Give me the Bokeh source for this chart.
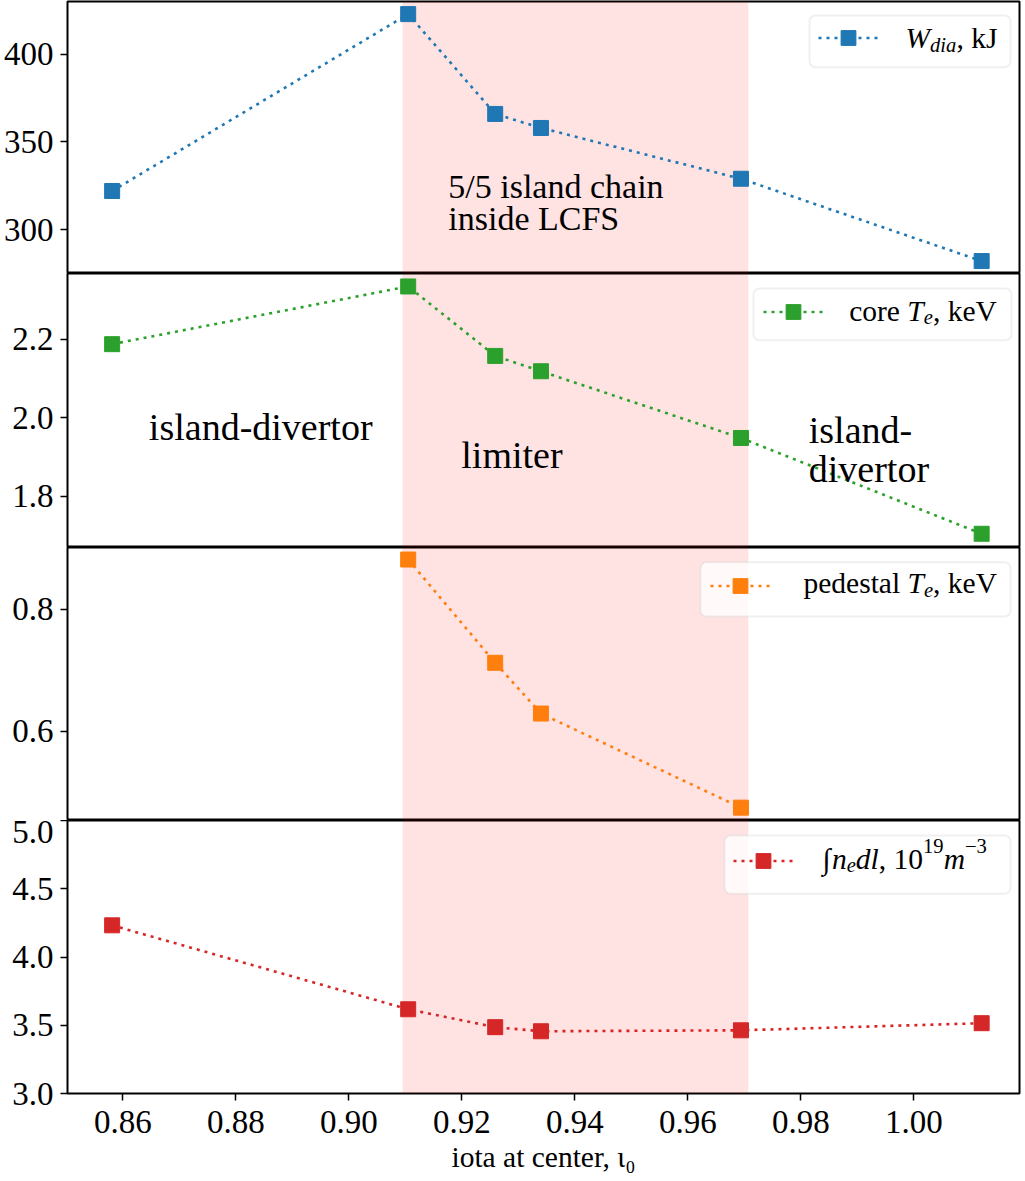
from bokeh.plotting import figure
from bokeh.layouts import column
from bokeh.models import (Range1d, FixedTicker, PrintfTickFormatter, BoxAnnotation,
                          Label, Legend, LegendItem)
from bokeh.embed import file_html
from bokeh.resources import INLINE

# ---- data -------------------------------------------------------------
iota = [0.8581, 0.9105, 0.9259, 0.9340, 0.9694, 1.0120]
w_dia = [322, 423, 366, 358, 329, 282]              # kJ
te_core = [2.188, 2.335, 2.158, 2.119, 1.949, 1.705]  # keV
iota_ped = [0.9105, 0.9259, 0.9340, 0.9694]
te_ped = [0.881, 0.712, 0.629, 0.475]               # keV
ne_dl = [4.232, 3.617, 3.486, 3.456, 3.463, 3.515]  # 1e19 m^-3

limiter_start, limiter_end = 0.9095, 0.9707

x_ticks = [0.86, 0.88, 0.90, 0.92, 0.94, 0.96, 0.98, 1.00]
w_ticks = [300, 350, 400]
core_ticks = [1.8, 2.0, 2.2]
ped_ticks = [0.6, 0.8]
ne_ticks = [3.0, 3.5, 4.0, 4.5, 5.0]

# ---- style ------------------------------------------------------------
FONT = "Liberation Serif"
TICK_FS = 33
LEG_FS = 29.5
BLUE, GREEN, ORANGE, RED = "#1f77b4", "#2ca02c", "#ff7f0e", "#d62728"

W, LEFT, RIGHT = 1025, 65, 6
FRAME_W = W - LEFT - RIGHT

x_range = Range1d(0.8502, 1.0187)

# Times-metric advance widths (em) for composing mixed-style legend labels
REG = {' ': .25, ',': .25, 'k': .5, 'J': .389, 'e': .444, 'V': .722, 'c': .444,
       'o': .5, 'r': .333, 'p': .5, 'd': .5, 's': .389, 't': .278, 'a': .444,
       'l': .278, '0': .5, '1': .5, '9': .5, '3': .5, '\u2212': .564, '\u222b': .32}
ITA = {'W': .833, 'T': .556, 'e': .444, 'd': .5, 'i': .278, 'a': .5, 'n': .5,
       'l': .278, 'm': .722}


def text_width(txt, italic):
    table = ITA if italic else REG
    return sum(table.get(ch, .5) for ch in txt)


def make_panel(y_range, ticks, fmt, height, top=0, bottom=0, x_axis=False):
    p = figure(width=W, height=height, x_range=x_range, y_range=y_range,
               output_backend="svg", toolbar_location=None,
               x_axis_location="below" if x_axis else None,
               min_border_left=LEFT, min_border_right=RIGHT,
               min_border_top=top, min_border_bottom=bottom)
    p.grid.visible = False
    p.outline_line_color = "black"
    p.outline_line_width = 2
    p.background_fill_color = "white"
    p.border_fill_color = "white"
    ax = p.yaxis[0]
    ax.ticker = FixedTicker(ticks=ticks)
    ax.formatter = PrintfTickFormatter(format=fmt)
    ax.major_label_text_font = FONT
    ax.major_label_text_font_size = f"{TICK_FS}px"
    ax.major_label_text_color = "black"
    ax.major_tick_out = 7
    ax.major_tick_in = 0
    ax.minor_tick_out = 0
    ax.minor_tick_in = 0
    ax.major_tick_line_width = 1.5
    ax.major_tick_line_color = "black"
    ax.axis_line_color = None
    ax.major_label_standoff = 7
    p.add_layout(BoxAnnotation(left=limiter_start, right=limiter_end,
                               fill_color="#ff0000", fill_alpha=0.115,
                               line_alpha=0, level="underlay"))
    return p


def add_series(p, x, y, color, pieces, frame_h, box, icon, text):
    """box = (left, right, top_off, bottom_off) in frame pixels;
    icon = (left, centre_off); text = (left, baseline_off)."""
    line = p.line(x, y, line_color=color, line_width=2.6, line_dash="3 5")
    pts = p.scatter(x, y, marker="square", size=15, fill_color=color,
                    line_color=color)

    # legend frame
    bl, br, bt, bb = box
    frame = BoxAnnotation(left=bl, right=br, top=frame_h - bt, bottom=frame_h - bb,
                          left_units="screen", right_units="screen",
                          top_units="screen", bottom_units="screen",
                          fill_color="white", fill_alpha=0.8,
                          line_color="#cccccc", line_width=2, level="underlay")
    if "border_radius" in BoxAnnotation.properties():
        frame.border_radius = 6
    p.add_layout(frame)

    # legend icon (transparent legend, only line + marker)
    il, ic = icon
    glyph_w, glyph_h = 60, 37
    margin = int(round(ic - glyph_h / 2))
    label_w = int(round(FRAME_W - margin - il - glyph_w))
    leg = Legend(items=[LegendItem(label=" ", renderers=[line, pts])],
                 location="top_right", margin=margin, padding=0, spacing=0,
                 glyph_width=glyph_w, glyph_height=glyph_h, label_standoff=0,
                 label_width=label_w, label_height=10, label_text_font_size="8px",
                 border_line_alpha=0, background_fill_alpha=0)
    p.add_layout(leg)

    # label text, with italic symbols and sub/superscripts
    xx, boff = text
    base = frame_h - boff
    for txt, italic, scale, dy in pieces:
        fs = LEG_FS * scale
        p.add_layout(Label(x=xx, y=base + dy * LEG_FS, x_units="screen",
                           y_units="screen", text=txt, text_font=FONT,
                           text_font_size=f"{fs:.1f}px",
                           text_font_style="italic" if italic else "normal",
                           text_baseline="alphabetic", text_align="left",
                           text_color="black"))
        xx += text_width(txt, italic) * fs


def add_note(p, x, y, text, size):
    p.add_layout(Label(x=x, y=y, text=text, text_font=FONT,
                       text_font_size=f"{size}px", text_baseline="middle",
                       text_align="left", text_color="black"))


SUB, SUP = -0.22, 0.42

# stored energy
p1 = make_panel(Range1d(274.9, 430.2), w_ticks, "%d", 273, top=1)
add_series(p1, iota, w_dia, BLUE,
           [("W", True, 1, 0), ("dia", True, .7, SUB), (", kJ", False, 1, 0)],
           272, box=(742, 943, 14, 65.7), icon=(753, 37), text=(838, 36.7))
add_note(p1, 0.9176, 324.7, "5/5 island chain", 34)
add_note(p1, 0.9176, 306.5, "inside LCFS", 34)

# core electron temperature
p2 = make_panel(Range1d(1.670, 2.368), core_ticks, "%.1f", 274)
add_series(p2, iota, te_core, GREEN,
           [("core ", False, 1, 0), ("T", True, 1, 0), ("e", True, .7, SUB),
            (", keV", False, 1, 0)],
           274, box=(686, 944, 15, 66.7), icon=(697.7, 39), text=(781.7, 37))
add_note(p2, 0.8646, 1.977, "island-divertor", 38)
add_note(p2, 0.9199, 1.906, "limiter", 38)
add_note(p2, 0.9814, 1.970, "island-", 38)
add_note(p2, 0.9814, 1.870, "divertor", 38)

# pedestal electron temperature
p3 = make_panel(Range1d(0.454, 0.9007), ped_ticks, "%.1f", 273)
add_series(p3, iota_ped, te_ped, ORANGE,
           [("pedestal ", False, 1, 0), ("T", True, 1, 0), ("e", True, .7, SUB),
            (", keV", False, 1, 0)],
           273, box=(633, 943, 14.7, 69), icon=(645, 38.7), text=(736, 35.7))
# upper half of the shared "5.0" tick label on the panel boundary
p3.add_layout(Label(x=-14, y=0, x_units="screen", y_units="screen",
                    text="%.1f" % ne_ticks[-1], text_font=FONT,
                    text_font_size=f"{TICK_FS}px", text_align="right",
                    text_baseline="middle", text_color="black"))

# line-integrated density
p4 = make_panel(Range1d(3.0, 5.0), ne_ticks, "%.1f", 361, bottom=88, x_axis=True)
add_series(p4, iota, ne_dl, RED,
           [("\u222b", False, 1, 0), ("n", True, 1, 0), ("e", True, .7, SUB),
            ("dl", True, 1, 0), (", 10", False, 1, 0), ("19", False, .7, SUP),
            ("m", True, 1, 0), ("\u22123", False, .7, SUP)],
           273, box=(657, 943, 15, 73.3), icon=(667.7, 40.7), text=(755, 38.3))
xa = p4.xaxis[0]
xa.ticker = FixedTicker(ticks=x_ticks)
xa.formatter = PrintfTickFormatter(format="%.2f")
xa.major_label_text_font = FONT
xa.major_label_text_font_size = f"{TICK_FS}px"
xa.major_label_text_color = "black"
xa.major_tick_out = 7
xa.major_tick_in = 0
xa.minor_tick_out = 0
xa.minor_tick_in = 0
xa.major_tick_line_width = 1.5
xa.major_tick_line_color = "black"
xa.axis_line_color = None
xa.major_label_standoff = 10
xa.axis_label = "iota at center, \u03b9\u2080"
xa.axis_label_text_font = FONT
xa.axis_label_text_font_size = "29.5px"
xa.axis_label_text_font_style = "normal"
xa.axis_label_text_color = "black"
xa.axis_label_standoff = 5

layout = column(p1, p2, p3, p4, spacing=0)
open("out.html", "w").write(file_html(layout, INLINE))
